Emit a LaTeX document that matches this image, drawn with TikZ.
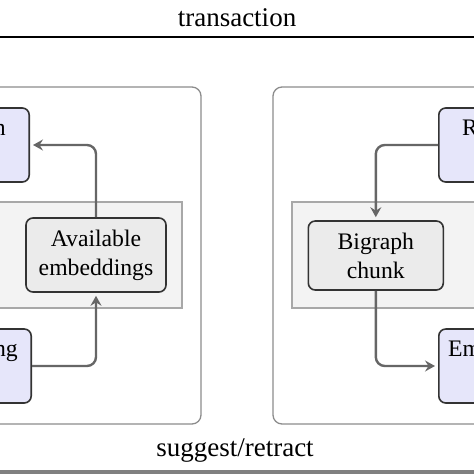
\documentclass[tikz,border=0pt]{standalone}
\usepackage{fontspec}
\setmainfont{Liberation Serif}
\usetikzlibrary{arrows.meta}
\definecolor{bluefill}{HTML}{E6E6FA}
\definecolor{boxfill}{HTML}{EBEBEB}
\definecolor{panelfill}{HTML}{F3F3F3}
\definecolor{panelline}{HTML}{A8A8A8}
\definecolor{outerline}{HTML}{8C8C8C}
\definecolor{darkline}{HTML}{333333}
\definecolor{arrowgray}{HTML}{666666}
\definecolor{bargray}{HTML}{808080}
\begin{document}
\begin{tikzpicture}[x=1pt,y=-1pt,
  outerbox/.style={draw=outerline, line width=1.3pt, rounded corners=9pt, fill=white},
  panel/.style={draw=panelline, fill=panelfill, line width=1.3pt},
  graybox/.style={draw=darkline, fill=boxfill, line width=1.6pt, rounded corners=7pt,
    align=center, inner sep=0pt, font=\fontsize{23.7}{29}\selectfont},
  bluebox/.style={draw=darkline, fill=bluefill, line width=1.6pt, rounded corners=7pt,
    inner sep=0pt, minimum height=74pt, minimum width=120pt},
  frag/.style={inner sep=0pt, font=\fontsize{23.7}{29}\selectfont},
  title/.style={inner sep=0pt, font=\fontsize{27}{32}\selectfont},
  conn/.style={draw=arrowgray, line width=2.4pt, rounded corners=9pt,
    -{Stealth[length=10pt,width=11pt,inset=3.5pt]}, shorten >=3pt}]
\useasboundingbox (0,0) rectangle (474,474);
\clip (0,0) rectangle (474,474);
% title and rules
\node[title, anchor=base] (trans) at (237,26) {transaction};
\draw[line width=2pt, black] (0,37) -- (474,37);
\node[title, anchor=base] (sugg) at (235,456) {suggest/retract};
\draw[line width=4pt, bargray] (0,472) -- (474,472);
% outer boxes
\draw[outerbox] (-60,87) rectangle (201,424);
\draw[outerbox] (273,87) rectangle (540,424);
% inner panels
\draw[panel] (-60,202) rectangle (182,308);
\draw[panel] (292,202) rectangle (540,308);
% gray boxes
\node[graybox, minimum width=140pt, minimum height=74pt] (ae) at (96,255) {Available\\embeddings};
\node[graybox, minimum width=135pt, minimum height=69pt] (bc) at (375.8,255.5) {Bigraph\\chunk};
% blue boxes
\node[bluebox, anchor=east] (lt) at (30,145) {};
\node[bluebox, anchor=east] (lb) at (32,366) {};
\node[bluebox, anchor=west] (rt) at (438,145) {};
\node[bluebox, anchor=west] (rb) at (438,366) {};
\node[frag, anchor=base east] (ltt) at (6,135) {n};
\node[frag, anchor=base east] (lbt) at (18,356) {ng};
\node[frag, anchor=base west] (rtt) at (462,135) {R};
\node[frag, anchor=base west] (rbt) at (448,356) {Em};
% connectors
\draw[conn] (ae.north) |- (lt.east);
\draw[conn] (lb.east) -| (ae.south);
\draw[conn] (rt.west) -| (bc.north);
\draw[conn] (bc.south) |- (rb.west);
\end{tikzpicture}
\end{document}
